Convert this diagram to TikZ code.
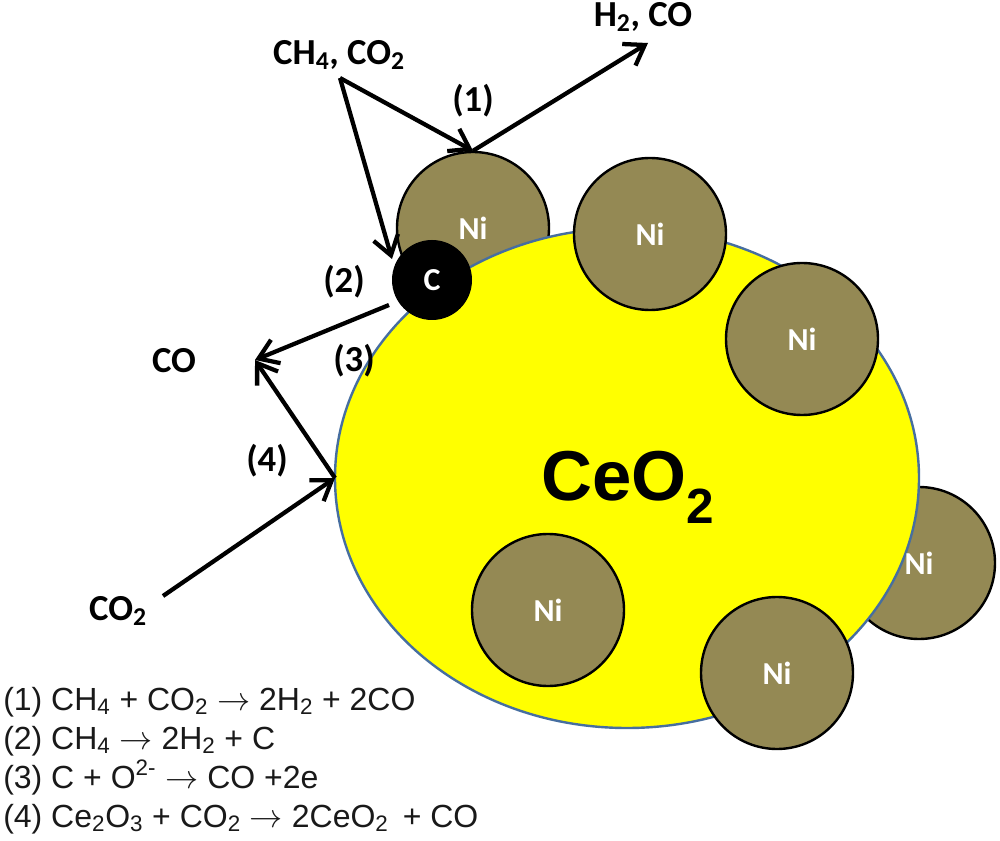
\documentclass[tikz,border=0pt]{standalone}
\usepackage{fontspec}
\setmainfont{Liberation Sans}
\newfontfamily\labelfont{Carlito}
\usetikzlibrary{arrows.meta}
\usetikzlibrary{shapes.geometric}
\newcommand{\low}[1]{\textsubscript{#1}}
\newcommand{\high}[1]{\textsuperscript{#1}}
\begin{document}
\begin{tikzpicture}[x=0.75pt,y=-0.75pt]
    % 1 = one pixel of the reference
    \def\NIDIA{114pt}
    \def\CDIA{60pt}

    \definecolor{niolive}{RGB}{148,137,84}
    \definecolor{rimblue}{RGB}{70,110,160}
    \definecolor{supportyellow}{RGB}{255,255,0}

    \tikzset{
      particle/.style={circle,draw=black,line width=1.8pt,fill=niolive,
        minimum size=\NIDIA,inner sep=0pt,text=white,
        font=\labelfont\bfseries\fontsize{24}{24}\selectfont},
      flow/.style={-{Straight Barb[length=14pt,width=19pt,line width=3.2pt]},
        line width=3.2pt,black},
      tag/.style={font=\labelfont\bfseries\fontsize{27.5}{28}\selectfont,inner sep=0pt},
      reaction/.style={anchor=base west,inner sep=0pt,
        font=\fontsize{24}{26}\selectfont,text=black!90},
    }

    \useasboundingbox (0,0) rectangle (1000,841);

    % PARTICLES BEHIND THE SUPPORT
    \node [particle] (NITOP) at (473,228) {Ni};
    \node [particle] (NIRIGHT) at (919,563) {};

    % SUPPORT
    \node [ellipse,draw=rimblue,line width=1.8pt,fill=supportyellow,
        minimum width=438pt,minimum height=375pt,inner sep=0pt] (SUPPORT) at (627,478) {};
    \node [font=\bfseries\fontsize{53}{53}\selectfont,inner sep=0pt]
        (CEO) at (628,487) {CeO\low{2}};

    % PARTICLES IN FRONT
    \node [particle] (NISECOND) at (650,234) {Ni};
    \node [particle] (NITHIRD) at (802,339) {Ni};
    \node [particle] (NIBOTTOM) at (548,610) {Ni};
    \node [particle] (NILOW) at (777,673) {Ni};
    \node [font=\labelfont\bfseries\fontsize{24}{24}\selectfont,text=white,inner sep=0pt]
        (NIRIGHTLABEL) at (919,563) {Ni};

    % CARBON
    \node [circle,fill=black,minimum size=\CDIA,inner sep=0pt,text=white,
        font=\labelfont\bfseries\fontsize{24}{24}\selectfont] (CARBON) at (432,280) {C};

    % LABELS
    \node [tag] (FEEDLABEL) at (339,55) {CH\low{4}, CO\low{2}};
    \node [tag] (SYNGAS) at (643,17) {H\low{2}, CO};
    \node [tag] (COLABEL) at (174,361) {CO};
    \node [tag] (COTWO) at (118,611) {CO\low{2}};
    \node [tag] (STEPONE) at (473,101) {(1)};
    \node [tag] (STEPTWO) at (344,282) {(2)};
    \node [tag] (STEPTHREE) at (354,361) {(3)};
    \node [tag] (STEPFOUR) at (267,461) {(4)};

    % FREE ENDS
    \coordinate (FEED) at (340,78);
    \coordinate (SYNEND) at (648,43);
    \coordinate (COEND) at (255,360);
    \coordinate (COSTART) at (163,596);
    \coordinate (CARBONEXIT) at (389,305);
    \coordinate (WALL) at (335,478);

    % ARROWS
    \draw [flow] (FEED) -- (NITOP.north);
    \draw [flow] (FEED) -- (392,259) coordinate (CARBONIN);
    \draw [flow] (NITOP.north) -- (SYNEND);
    \draw [flow] (CARBONEXIT) -- (COEND);
    \draw [flow] (WALL) -- (COEND);
    \draw [flow] (COSTART) -- (WALL);

    % REACTIONS
    \node [reaction] (EQONE) at (3,710) {(1) CH\low{4} + CO\low{2} $\rightarrow$ 2H\low{2} + 2CO};
    \node [reaction] (EQTWO) at (3,749) {(2) CH\low{4} $\rightarrow$ 2H\low{2} + C};
    \node [reaction] (EQTHREE) at (3,788) {(3) C + O\high{2-} $\rightarrow$ CO +2e};
    \node [reaction] (EQFOUR) at (3,827) {(4) Ce\low{2}O\low{3} + CO\low{2} $\rightarrow$ 2CeO\low{2}\, + CO};
\end{tikzpicture}
\end{document}
